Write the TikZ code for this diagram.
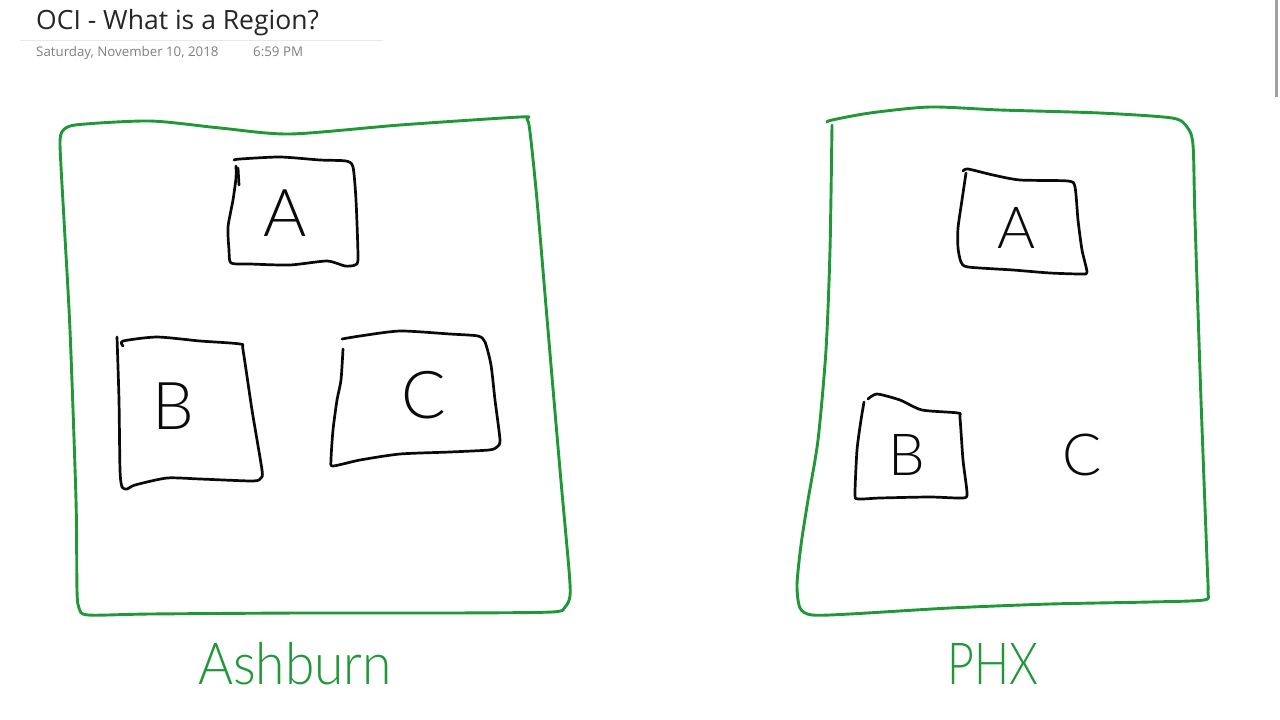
\documentclass[tikz,border=0pt]{standalone}
\usepackage{fontspec}
\setmainfont{Open Sans}
\newfontfamily\handfont{Lato Light}
\definecolor{inkgreen}{RGB}{32,152,56}
\definecolor{ink}{RGB}{10,10,10}
\definecolor{dategray}{RGB}{128,128,128}
\definecolor{rulegray}{RGB}{232,232,232}
\definecolor{scrollgray}{RGB}{160,160,160}
\begin{document}
\begin{tikzpicture}[x=1pt,y=-1pt,
  region/.style={draw=inkgreen,line width=2.9pt,line join=round,line cap=round},
  zone/.style={draw=ink,line width=2.7pt,line join=round,line cap=round},
  letter/.style={inner sep=0pt,text=ink,font=\handfont\fontsize{66}{66}\selectfont},
  place/.style={inner sep=0pt,text=inkgreen,font=\handfont\fontsize{58}{58}\selectfont},
  titletext/.style={inner sep=0pt,anchor=base west,font=\fontsize{26.5}{26.5}\selectfont,text=black!85},
  datetext/.style={inner sep=0pt,anchor=base west,font=\fontsize{13.3}{13.3}\selectfont,text=dategray}]
\useasboundingbox (0,0) rectangle (1280,720);
\fill[white] (0,0) rectangle (1280,720);

% header
\node[titletext] (title) at (36,29) {OCI - What is a Region?};
\draw[rulegray,line width=1pt] (20,40) -- (383,40);
\node[datetext] (date) at (36,56.5) {Saturday, November 10, 2018};
\node[datetext] (time) at (253,56.5) {6:59 PM};
\draw[scrollgray,line width=2.5pt] (1276.5,0) -- (1276.5,97);

% ---------- Ashburn region ----------
\draw[region] plot[smooth,tension=0.45] coordinates {
  (62,132) (75,125) (150,121) (220,128) (290,134) (400,125) (520,117) (527,119) (530,132)
  (537,200) (548,330) (560,470) (569,570) (570,596) (565,607) (552,612)
  (450,613) (300,613) (150,614) (88,615) (79,608) (77,590)
  (76,500) (70,330) (64,220) (60,145) (62,132)};

% zone A
\draw[zone] plot[smooth,tension=0.4] coordinates {
  (234,160) (240,159) (280,157) (320,160) (346,161) (353,167)
  (356,200) (358,258) (355,265) (345,266) (327,261) (290,265) (250,264) (231,263)
  (229,250) (228,227) (233,200) (236,178) (236,166)};
\draw[zone] (238,168) -- (239,185);
\node[letter] (ashA) at (285,213) {A};

% zone B
\draw[zone] plot[smooth,tension=0.4] coordinates {
  (123,346) (123,341) (157,337) (200,341) (240,344) (243,350)
  (252,410) (262,470) (261,478) (253,481) (200,479) (167,478) (135,485) (127,489)
  (122,487) (120,470) (119,400) (117,337)};
\node[letter] (ashB) at (173,406) {B};

% zone C
\draw[zone] plot[smooth,tension=0.4] coordinates {
  (342,339) (360,336) (400,331) (450,334) (478,336) (485,342)
  (491,365) (495,400) (500,440) (497,447) (489,450) (450,452) (400,454) (360,460) (333,466)
  (331,460) (333,430) (337,400) (341,380) (343,349)};
\node[letter] (ashC) at (424,395) {C};

\node[place,xscale=0.92] (ashburn) at (295,664) {Ashburn};

% ---------- PHX region ----------
\draw[region] plot[smooth,tension=0.45] coordinates {
  (827,122) (832,120) (870,113) (930,107) (1000,110) (1100,113) (1172,118) (1187,127) (1193,145)
  (1195,220) (1201,400) (1207,560) (1208,592) (1204,600)
  (1150,602) (1050,604) (950,608) (850,614) (812,615) (800,608) (797,585)
  (801,545) (808,500) (818,440) (826,350) (830,250) (832,125)};

% zone A
\draw[zone] plot[smooth,tension=0.4] coordinates {
  (963,171) (968,169) (993,175) (1020,180) (1068,181) (1075,187)
  (1078,220) (1082,250) (1087,272) (1082,274) (1050,273) (1013,270) (968,267)
  (961,262) (958,248) (958,228) (962,200) (966,173)};
\node[letter,font=\handfont\fontsize{58}{58}\selectfont] (phxA) at (1016,228) {A};

% zone B
\draw[zone] plot[smooth,tension=0.4] coordinates {
  (868,399) (877,394) (900,400) (922,410) (958,413) (960,418)
  (963,460) (967,493) (963,498) (930,497) (880,498) (858,499)
  (855,494) (857,450) (861,420) (864,402)};
\node[letter,font=\handfont\fontsize{58}{58}\selectfont] (phxB) at (907,455) {B};

\node[letter,font=\handfont\fontsize{58}{58}\selectfont] (phxC) at (1082,455) {C};

\node[place,xscale=0.8] (phx) at (993,664) {PHX};
\end{tikzpicture}
\end{document}
